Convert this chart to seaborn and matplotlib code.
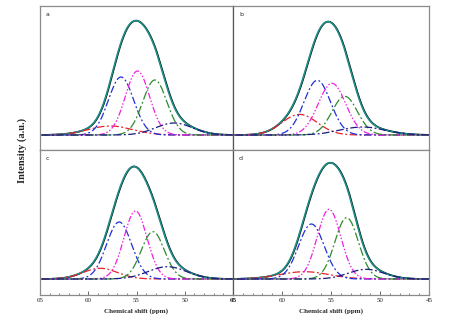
import numpy as np
import pandas as pd
import matplotlib
matplotlib.use("Agg")
import matplotlib.pyplot as plt
import seaborn as sns
from matplotlib.ticker import MultipleLocator

# Fitted component parameters per sample: centre (ppm), height (a.u.), width sigma (ppm)
panels = ["a", "b", "c", "d"]
components = ["red", "blue", "magenta", "green", "navy"]

centres = {
    "a": [57.7, 56.6, 54.9, 53.1, 51.1],
    "b": [58.2, 56.4, 54.9, 53.6, 51.8],
    "c": [58.75, 56.8, 55.1, 53.3, 51.8],
    "d": [57.7, 57.0, 55.2, 53.4, 51.4],
}
heights = {
    "a": [9.0, 58.0, 64.0, 55.0, 12.0],
    "b": [20.6, 54.7, 51.6, 38.7, 8.0],
    "c": [10.7, 57.0, 68.0, 47.3, 12.3],
    "d": [7.3, 55.0, 69.7, 61.3, 9.7],
}
widths = {
    "a": [2.3, 1.3, 1.25, 1.25, 1.9],
    "b": [1.8, 1.35, 1.4, 1.3, 2.3],
    "c": [1.8, 1.3, 1.2, 1.2, 2.0],
    "d": [2.5, 1.3, 1.2, 1.2, 1.8],
}

x_ticks = [65, 60, 55, 50, 45]

comp_colors = {"red": "#e8202a", "blue": "#1f2fd8", "magenta": "#f020e0",
               "green": "#2e8b2e", "navy": "#1a1a80"}
comp_dashes = {"red": (6, 2, 1.5, 2), "blue": (6, 2, 1.5, 2),
               "magenta": (5, 1.5, 1.2, 1.5, 1.2, 1.5), "green": (7, 2, 1.5, 2),
               "navy": (6, 2, 1.5, 2)}

sns.set_style("white")
plt.rcParams["font.family"] = ["Liberation Serif", "DejaVu Serif"]

W, H = 474, 322
fig = plt.figure(figsize=(W / 100, H / 100), dpi=100)

boxes = {
    "a": (40, 6, 233, 150),
    "b": (233, 6, 429, 150),
    "c": (40, 150, 233, 295),
    "d": (233, 150, 429, 295),
}

grid = np.linspace(45, 65, 600)

for p in panels:
    x0, y0, x1, y1 = boxes[p]
    ax = fig.add_axes([x0 / W, (H - y1) / H, (x1 - x0) / W, (y1 - y0) / H])
    parts = []
    for name, c, h, s in zip(components, centres[p], heights[p], widths[p]):
        parts.append(h * np.exp(-(grid - c) ** 2 / (2 * s ** 2)))
    total = np.sum(parts, axis=0)

    # measured spectrum (black) under the summed fit (teal)
    sns.lineplot(x=grid - 0.05, y=total, ax=ax, color="black", lw=1.2, sort=False)
    sns.lineplot(x=grid, y=total, ax=ax, color="#1f9088", lw=1.2, sort=False)
    for name, curve in zip(components, parts):
        ln = sns.lineplot(x=grid, y=curve, ax=ax, color=comp_colors[name],
                          lw=0.9, sort=False)
        ln.lines[-1].set_dashes(comp_dashes[name])

    ax.set_xlim(65, 45)
    bottom = p in ("c", "d")
    ax.set_ylim(-16 if bottom else -15, 129)
    ax.set_yticks([])
    ax.set_ylabel("")
    for sp in ax.spines.values():
        sp.set_color("#8a8a8a")
        sp.set_linewidth(0.9)
    if p in ("b", "d"):
        ax.spines["left"].set_color("#555555")
    if bottom:
        ax.set_xticks(x_ticks)
        ax.set_xticklabels([str(v) for v in x_ticks], fontsize=5)
        ax.xaxis.set_minor_locator(MultipleLocator(1))
        ax.tick_params(axis="x", which="major", direction="in", length=3,
                       width=0.6, color="#555555", pad=2, bottom=True)
        ax.tick_params(axis="x", which="minor", direction="in", length=1.5,
                       width=0.5, color="#555555", bottom=True)
        ax.set_xlabel("Chemical shift (ppm)", fontsize=5, fontweight="bold",
                      labelpad=4)
    else:
        ax.set_xticks([])
        ax.set_xlabel("")
    ax.text(6 / (x1 - x0), 1 - 8 / (y1 - y0), p, transform=ax.transAxes,
            fontsize=4.5, fontfamily="DejaVu Sans", ha="left", va="center")

fig.text(22 / W, 1 - 150 / H, "Intensity (a.u.)", rotation=90, fontsize=7.5,
         fontweight="bold", ha="center", va="center")

fig.savefig("out.png", dpi=100)
